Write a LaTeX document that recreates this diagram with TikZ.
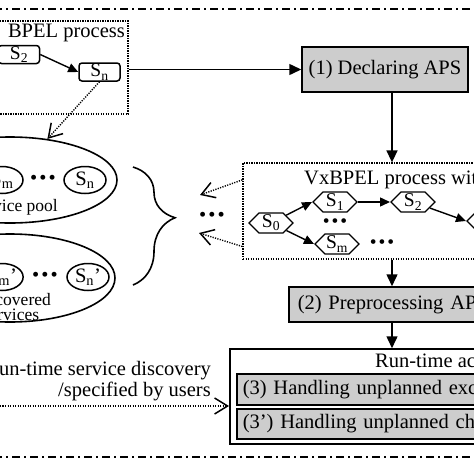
\documentclass[tikz,border=0pt]{standalone}
\usepackage{fontspec}
\setmainfont{Liberation Serif}
\usetikzlibrary{arrows.meta,calc,positioning,shapes.geometric,shapes.symbols,decorations.pathreplacing}
\definecolor{BoxGray}{RGB}{205,205,205}
\newcommand{\bigtxt}{\fontsize{20.5}{21}\selectfont}
\newcommand{\midtxt}{\fontsize{19.5}{19}\selectfont}
\newcommand{\smalltxt}{\fontsize{17.5}{14.5}\selectfont}
\newcommand{\Sx}[1]{S\textsubscript{#1}}
\newcommand{\dotsrow}{\textbullet\hspace{.1em}\textbullet\hspace{.1em}\textbullet}
\tikzset{
  stepgray/.style={draw,fill=BoxGray,line width=1.5pt,font=\bigtxt,inner sep=0pt},
  dotframe/.style={draw,line width=1.3pt,dash pattern=on 1.2pt off 1.3pt},
  sbox/.style={draw,rounded corners=3pt,line width=1.5pt,font=\midtxt,inner sep=0pt,minimum width=41pt,minimum height=18pt},
  hexa/.style={signal,signal to=west and east,draw,line width=1.4pt,font=\midtxt,inner sep=0pt,minimum width=44pt,minimum height=20pt},
  svc/.style={ellipse,draw,line width=1.5pt,font=\bigtxt,inner sep=0pt,minimum width=42pt,minimum height=27pt},
  pool/.style={ellipse,draw,line width=1.6pt,inner sep=0pt},
  lbl/.style={inner sep=0pt,font=\bigtxt},
  arr/.style={line width=1.5pt,-{Triangle[length=12pt,width=11pt]}},
  sarr/.style={line width=1.4pt,-{Triangle[length=10pt,width=9pt]}},
  darr/.style={line width=1.4pt,dash pattern=on 1.2pt off 1.3pt,-{Straight Barb[length=13pt,width=16pt,line width=1.5pt]}},
  sepline/.style={line width=1.5pt,dash pattern=on 8pt off 4pt on 2pt off 4pt},
}
\begin{document}
\begin{tikzpicture}[x=1pt,y=-1pt]
  \useasboundingbox (0,0) rectangle (474,474);
  \clip (0,0) rectangle (474,474);
  \draw[sepline] (-6,9) -- (480,9);
  \draw[sepline] (-6,457) -- (480,457);

  \node[dotframe,minimum width=160pt,minimum height=93pt] (bpel) at (48,67.5) {};
  \node[lbl,anchor=east] (bpeltxt) at (125,33) {BPEL process};
  \node[sbox] (ps2) at (19,54.5) {\Sx{2}};
  \node[sbox] (psn) at (99.5,72) {\Sx{n}};
  \draw[sarr] (ps2.east) -- (psn.west);

  \node[stepgray,minimum width=166pt,minimum height=45pt] (decl) at (385,69.5) {(1) Declaring APS};
  \draw[arr] (bpel.east |- decl.west) -- (decl.west);

  \node[dotframe,minimum width=298pt,minimum height=96pt] (vx) at (392,211) {};
  \node[lbl,anchor=west] (vxtxt) at (304,180) {VxBPEL process with APS};
  \draw[arr] (vx.north |- decl.south) -- (vx.north);
  \node[hexa] (h0) at (271,223) {\Sx{0}};
  \node[hexa] (h1) at (335,202) {\Sx{1}};
  \node[hexa] (h2) at (413,202) {\Sx{2}};
  \node[hexa] (hm) at (337,244) {\Sx{m}};
  \node[hexa] (hx) at (489,221) {};
  \node[lbl,font=\midtxt] (hdots1) at (335,223) {\dotsrow};
  \node[lbl,font=\midtxt] (hdots2) at (382,244) {\dotsrow};
  \draw[sarr] (h0) -- (h1.west);
  \draw[sarr] (h0) -- (hm.west);
  \draw[sarr] (h1.east) -- (h2.west);
  \draw[sarr] (h2) -- (hx.west);

  \node[stepgray,anchor=west,text width=200pt,inner xsep=9pt,minimum height=35pt] (prep) at (288,304.5) {(2) Preprocessing APS};
  \draw[arr] (vx.south) -- (vx.south |- prep.north);

  \node[draw,line width=1.5pt,anchor=west,minimum width=330pt,minimum height=95pt] (run) at (229,396.5) {};
  \node[lbl,anchor=west] (runtxt) at (375,361) {Run-time activities};
  \draw[arr] (prep.south -| vx.south) -- (run.north -| vx.south);
  \node[stepgray,anchor=west,text width=300pt,inner xsep=6pt,minimum height=31pt] (hexc) at (236,389.5) {(3) Handling unplanned exceptions};
  \node[stepgray,anchor=west,text width=300pt,inner xsep=6pt,minimum height=30pt] (hchg) at (236,424) {(3’) Handling unplanned changes};

  \node[pool,minimum width=214pt,minimum height=86pt] (spool) at (10,180) {};
  \node[svc] (pm) at (2,180) {\Sx{m}};
  \node[lbl] (pdots) at (43,180) {\dotsrow};
  \node[svc] (pn) at (85,180) {\Sx{n}};
  \node[lbl,font=\smalltxt,anchor=east] (pooltxt) at (58,207) {Service pool};
  \draw[darr] (psn.south) -- (spool);

  \node[pool,minimum width=210pt,minimum height=88pt] (dpool) at (10,278) {};
  \node[svc] (dm) at (2,277) {\Sx{m}’};
  \node[lbl] (ddots) at (45,277) {\dotsrow};
  \node[svc] (dn) at (88,277) {\Sx{n}’};
  \node[lbl,font=\smalltxt,align=center] (dtxt) at (11,307) {Discovered\\services};

  \draw[line width=1.6pt,decorate,decoration={brace,amplitude=42pt,aspect=0.43}] (133,167) -- (133,285);
  \node[lbl] (mdots) at (212,217) {\dotsrow};
  \coordinate (ina) at (200,195);
  \coordinate (inb) at (199,233);
  \draw[darr] ($(vx.north west)!0.18!(vx.south west)$) -- (ina);
  \draw[darr] ($(vx.north west)!0.865!(vx.south west)$) -- (inb);

  \node[lbl,align=right,anchor=east] (disc) at (211,381) {Run-time service discovery\\/specified by users};
  \coordinate (dsrc) at (-5,406);
  \draw[darr] (dsrc) -- (dsrc -| run.west);
\end{tikzpicture}
\end{document}
